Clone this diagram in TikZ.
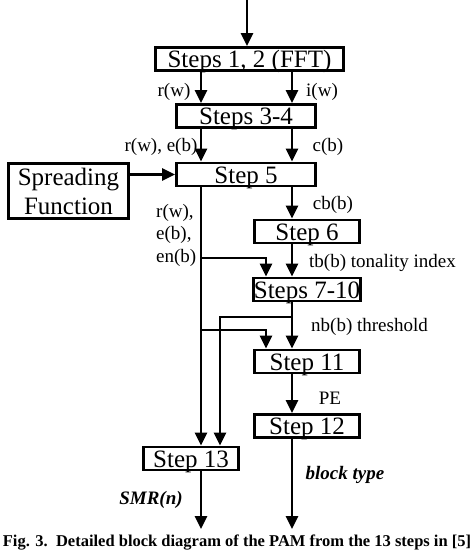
\documentclass[tikz,border=0pt]{standalone}
\usepackage{fontspec}
\setmainfont{Liberation Serif}
\usepackage{tikz}
\usetikzlibrary{arrows.meta}

\tikzset{
  box/.style={draw, line width=2.8pt, inner sep=0pt, minimum height=23pt, font=\fontsize{25}{29}\selectfont},
  stepbox/.style={box, text height=17pt, text depth=0pt},
  lbl/.style={inner sep=0pt, font=\fontsize{19}{22.5}\selectfont},
  arr/.style={line width=2.8pt, -{Triangle[width=12pt,length=13pt]}}
}

\begin{document}
\begin{tikzpicture}[x=1pt,y=-1pt]
\useasboundingbox (0,0) rectangle (474,551);

\node[stepbox, minimum width=188pt] (fft) at (249.5,59) {Steps 1, 2 (FFT)};
\node[stepbox, minimum width=139pt] (s34) at (246,116) {Steps 3-4};
\node[stepbox, minimum width=139pt] (s5) at (246,174.5) {Step 5};
\node[box, minimum width=120pt, minimum height=55pt, align=center] (spread) at (68.5,191) {Spreading\\Function};
\node[stepbox, minimum width=105pt] (s6) at (307,231.5) {Step 6};
\node[stepbox, minimum width=105pt] (s710) at (307,289.5) {Steps 7-10};
\node[stepbox, minimum width=105pt] (s11) at (307,361.5) {Step 11};
\node[stepbox, minimum width=105pt] (s12) at (307,426) {Step 12};
\node[stepbox, minimum width=95pt] (s13) at (191,458.5) {Step 13};

\coordinate (in) at (247,0);
\coordinate (cl) at (201,0);
\coordinate (cb) at (220,0);
\coordinate (cm) at (266,0);
\coordinate (cr) at (292,0);
\coordinate (j1) at (201,258);
\coordinate (j2) at (292,317);
\coordinate (j3) at (201,330);
\coordinate (out1) at (201,529);
\coordinate (out2) at (292,529);

\draw[arr] (in) -- (in |- fft.north);
\draw[arr] (fft.south -| cl) -- (s34.north -| cl);
\draw[arr] (fft.south -| cr) -- (s34.north -| cr);
\draw[arr] (s34.south -| cl) -- (s5.north -| cl);
\draw[arr] (s34.south -| cr) -- (s5.north -| cr);
\draw[arr] (spread.east |- s5) -- (s5.west);
\draw[arr] (s5.south -| cr) -- (s6.north -| cr);
\draw[arr] (s6.south -| cr) -- (s710.north -| cr);
\draw[arr] (s5.south -| cl) -- (s13.north -| cl);
\draw[arr] (j1) -| (s710.north -| cm);
\draw[arr] (s710.south -| cr) -- (s11.north -| cr);
\draw[arr] (j2) -| (s13.north -| cb);
\draw[arr] (j3) -| (s11.north -| cm);
\draw[arr] (s11.south -| cr) -- (s12.north -| cr);
\draw[arr] (s13.south -| cl) -- (out1);
\draw[arr] (s12.south -| cr) -- (out2);

\node[lbl] (rw) at (174,92) {r(w)};
\node[lbl] (iw) at (322,92) {i(w)};
\node[lbl] (rwe) at (161,147) {r(w), e(b)};
\node[lbl] (cbb) at (328,147) {c(b)};
\node[lbl] (cbs) at (333,205) {cb(b)};
\node[lbl, anchor=west, align=left] (ren) at (156,235) {r(w),\\e(b),\\en(b)};
\node[lbl, anchor=west] (tb) at (309,263) {tb(b) tonality index};
\node[lbl, anchor=west] (nb) at (311,327) {nb(b) threshold};
\node[lbl] (pe) at (330,398) {PE};
\node[lbl, font=\fontsize{19}{22.5}\selectfont\bfseries\itshape] (bt) at (345,475) {block type};
\node[lbl, font=\fontsize{19}{22.5}\selectfont\bfseries\itshape] (smr) at (151,500) {SMR(n)};
\node[inner sep=0pt, font=\fontsize{16.5}{19}\selectfont\bfseries] (cap) at (237,543) {Fig. 3.\ \ Detailed block diagram of the PAM from the 13 steps in [5]};

\end{tikzpicture}
\end{document}
